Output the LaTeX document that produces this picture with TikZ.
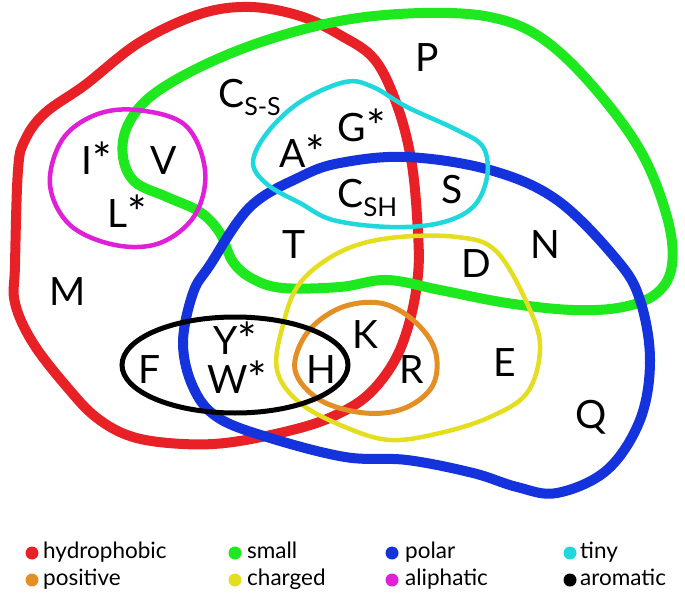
\documentclass[tikz,border=0pt]{standalone}
\usepackage{fontspec}
\usepackage{graphicx}
\setmainfont{Lato}
\definecolor{cred}{RGB}{232,33,39}
\definecolor{cgreen}{RGB}{30,232,30}
\definecolor{cblue}{RGB}{21,51,221}
\definecolor{ccyan}{RGB}{31,216,221}
\definecolor{cmag}{RGB}{224,32,216}
\definecolor{cyel}{RGB}{229,222,32}
\definecolor{corange}{RGB}{228,143,37}
\newcommand\starmark{\smash{\raisebox{-2pt}{\scalebox{1.18}{*}}}}
\begin{document}
\begin{tikzpicture}[x=1pt,y=-1pt,
  lab/.style={font=\fontsize{39}{40}\selectfont, inner sep=0pt, text height=28pt, text depth=0pt},
  leg/.style={font=\fontsize{22.5}{24}\selectfont, anchor=base west, inner sep=0pt},
  legdot/.style={circle, inner sep=0pt, minimum size=13pt},
  thick set/.style={line width=10pt},
  thin set/.style={line width=4.5pt}]
\useasboundingbox (0,0) rectangle (685,594);

% hydrophobic
\draw[cred, thick set] plot[smooth cycle, tension=0.6] coordinates {
 (15,265) (18,170) (25,140) (45,113) (85,85) (140,42) (200,14) (250,7) (300,16)
 (340,35) (375,60) (398,108) (412,165) (418,233) (418,275) (410,320) (395,360)
 (370,393) (340,413) (300,428) (233,442) (183,444) (133,437) (97,418) (67,387)
 (33,343) (15,303)};
% small
\draw[cgreen, thick set] plot[smooth cycle, tension=0.6] coordinates {
 (345,20) (267,40) (200,67) (150,97) (127,127) (123,157) (135,182) (167,197)
 (200,212) (220,233) (233,262) (253,279) (283,288) (340,287) (387,280) (440,290)
 (507,303) (573,310) (623,307) (657,293) (672,265) (667,217) (640,150) (590,83)
 (540,37) (490,17) (423,13)};
% polar
\draw[cblue, thick set] plot[smooth cycle, tension=0.6] coordinates {
 (210,265) (193,293) (183,343) (193,387) (217,417) (267,437) (345,457) (407,460)
 (473,473) (517,487) (557,493) (607,470) (640,420) (650,360) (640,300) (617,260)
 (557,200) (490,170) (407,157) (340,163) (300,177) (250,207)};
% tiny
\draw[ccyan, thin set] plot[smooth cycle, tension=0.6] coordinates {
 (253,163) (267,133) (300,102) (345,82) (373,87) (407,107) (457,130) (483,147)
 (487,177) (473,207) (440,223) (390,227) (333,220) (300,203) (268,185)};
% aliphatic
\draw[cmag, thin set] plot[smooth cycle, tension=0.6] coordinates {
 (137,110) (185,125) (205,170) (195,215) (160,243) (115,245) (70,225) (50,185)
 (62,140) (95,115)};
% charged
\draw[cyel, thin set] plot[smooth cycle, tension=0.6] coordinates {
 (283,325) (300,283) (340,252) (390,238) (457,237) (497,252) (530,310) (540,350)
 (527,393) (490,417) (440,433) (390,440) (345,427) (300,403) (277,370)};
% positive
\draw[corange, line width=5pt] plot[smooth cycle, tension=0.6] coordinates {
 (307,333) (340,308) (380,303) (413,320) (435,350) (433,385) (405,408) (365,413)
 (320,400) (295,370)};
% aromatic
\draw[black, line width=5pt] (235,365) ellipse [x radius=113pt, y radius=48pt];

% labels
\node[lab] (P) at (427,57) {P};
\node[lab, anchor=base west] (Css) at (218,107) {C\raisebox{-8pt}{\fontsize{25}{26}\selectfont S-S}};
\node[lab] (A) at (302,153) {A\starmark};
\node[lab] (G) at (362,127) {G\starmark};
\node[lab, anchor=base west] (Csh) at (337,207) {C\raisebox{-9pt}{\fontsize{26}{27}\selectfont SH}};
\node[lab] (S) at (452,189) {S};
\node[lab] (T) at (294,244) {T};
\node[lab] (D) at (476,263) {D};
\node[lab] (N) at (545,244) {N};
\node[lab] (M) at (68,291) {M};
\node[lab] (I) at (97,160) {I\starmark};
\node[lab] (V) at (164,160) {V};
\node[lab] (L) at (127,213) {L\starmark};
\node[lab] (F) at (150,369) {F};
\node[lab] (Y) at (235,340) {Y\starmark};
\node[lab] (W) at (237,379) {W\starmark};
\node[lab] (H) at (321,369) {H};
\node[lab] (K) at (365,334) {K};
\node[lab] (R) at (412,369) {R};
\node[lab] (E) at (505,362) {E};
\node[lab] (Q) at (591,414) {Q};

% legend
\node[legdot, fill=cred] (d1) at (32,553) {};
\node[leg] (l1) at (43,558) {hydrophobic};
\node[legdot, fill=corange] (d2) at (32,580) {};
\node[leg] (l2) at (43,585) {positive};
\node[legdot, fill=cgreen] (d3) at (235,553) {};
\node[leg] (l3) at (247,558) {small};
\node[legdot, fill=cyel] (d4) at (235,580) {};
\node[leg] (l4) at (247,585) {charged};
\node[legdot, fill=cblue] (d5) at (392,553) {};
\node[leg] (l5) at (405,558) {polar};
\node[legdot, fill=cmag] (d6) at (392,580) {};
\node[leg] (l6) at (405,585) {aliphatic};
\node[legdot, fill=ccyan] (d7) at (570,553) {};
\node[leg] (l7) at (580,558) {tiny};
\node[legdot, fill=black] (d8) at (570,580) {};
\node[leg] (l8) at (580,585) {aromatic};
\end{tikzpicture}
\end{document}
